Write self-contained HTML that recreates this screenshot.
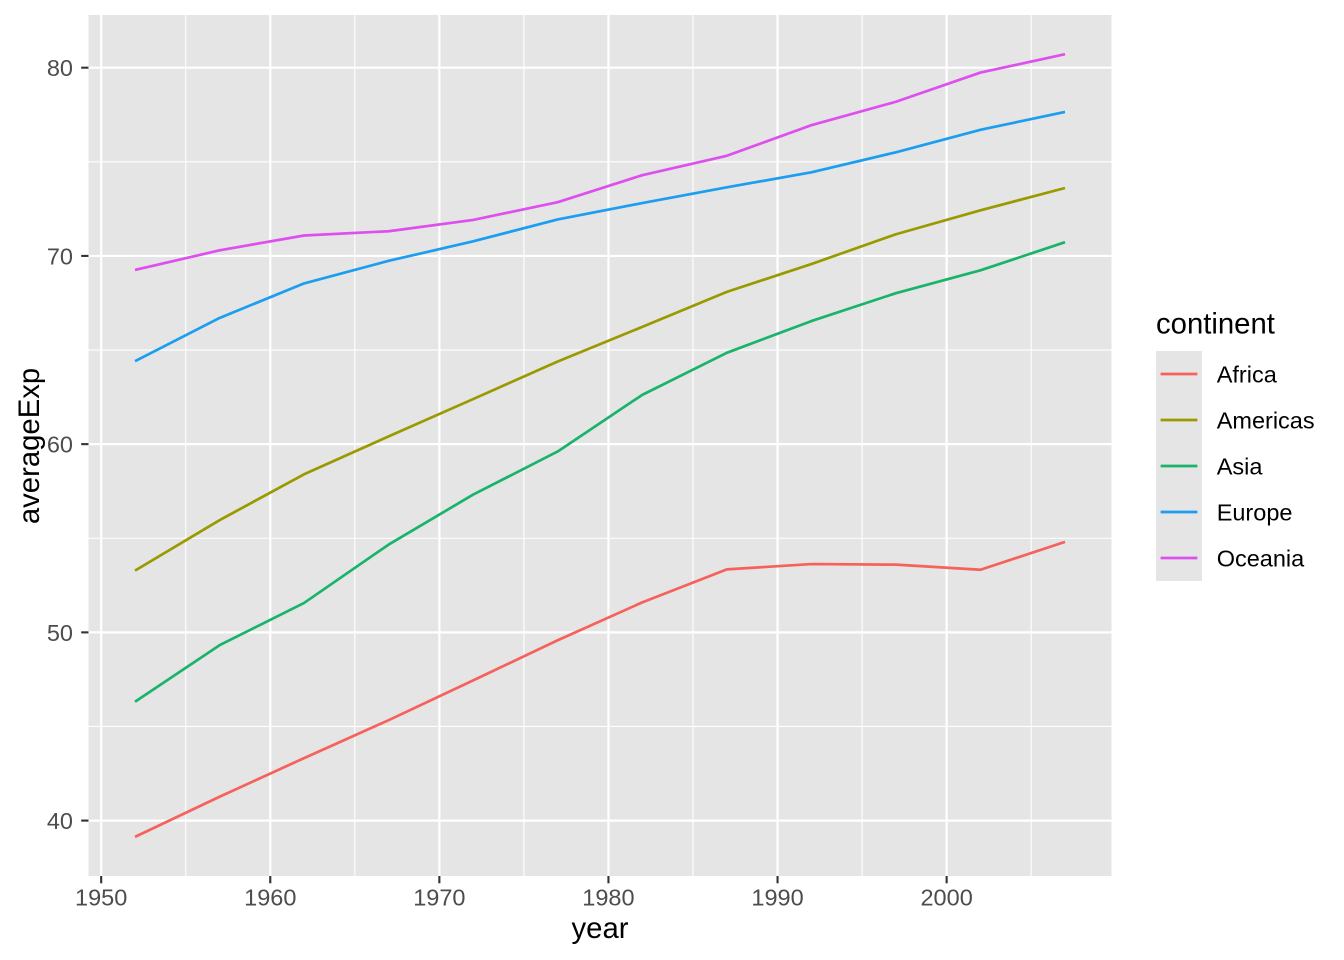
<!DOCTYPE html>
<html><head><meta charset="utf-8"><style>html,body{margin:0;padding:0;background:#fff}svg{display:block}</style></head>
<body>
<svg width="1344" height="960" viewBox="0 0 1344 960" xmlns="http://www.w3.org/2000/svg" font-family="Liberation Sans, Arial, sans-serif">
<rect x="0" y="0" width="1344" height="960" fill="#fff"/>
<rect x="88.5" y="15" width="1023" height="861" fill="#E5E5E5"/>
<g stroke="#fff" stroke-width="1.1">
<line x1="185.72" y1="15" x2="185.72" y2="876"/>
<line x1="354.81" y1="15" x2="354.81" y2="876"/>
<line x1="523.9" y1="15" x2="523.9" y2="876"/>
<line x1="693.0" y1="15" x2="693.0" y2="876"/>
<line x1="862.09" y1="15" x2="862.09" y2="876"/>
<line x1="1031.18" y1="15" x2="1031.18" y2="876"/>
<line x1="88.5" y1="726.48" x2="1111.5" y2="726.48"/>
<line x1="88.5" y1="538.26" x2="1111.5" y2="538.26"/>
<line x1="88.5" y1="350.03" x2="1111.5" y2="350.03"/>
<line x1="88.5" y1="161.81" x2="1111.5" y2="161.81"/>
</g>
<g stroke="#fff" stroke-width="2.2">
<line x1="101.18" y1="15" x2="101.18" y2="876"/>
<line x1="270.27" y1="15" x2="270.27" y2="876"/>
<line x1="439.36" y1="15" x2="439.36" y2="876"/>
<line x1="608.45" y1="15" x2="608.45" y2="876"/>
<line x1="777.54" y1="15" x2="777.54" y2="876"/>
<line x1="946.63" y1="15" x2="946.63" y2="876"/>
<line x1="88.5" y1="820.59" x2="1111.5" y2="820.59"/>
<line x1="88.5" y1="632.37" x2="1111.5" y2="632.37"/>
<line x1="88.5" y1="444.14" x2="1111.5" y2="444.14"/>
<line x1="88.5" y1="255.92" x2="1111.5" y2="255.92"/>
<line x1="88.5" y1="67.69" x2="1111.5" y2="67.69"/>
</g>
<g transform="translate(88.5,15) scale(16.909,-18.8228) translate(-1949.25,-82.7987)" fill="none" stroke-width="2.7" stroke-linejoin="round">
<polyline vector-effect="non-scaling-stroke" stroke="#F6615C" points="1952,39.1355 1957,41.2663 1962,43.3194 1967,45.3345 1972,47.4509 1977,49.5804 1982,51.5929 1987,53.3448 1992,53.6296 1997,53.5983 2002,53.3252 2007,54.8060"/>
<polyline vector-effect="non-scaling-stroke" stroke="#9A9A00" points="1952,53.2798 1957,55.9603 1962,58.3988 1967,60.4109 1972,62.3949 1977,64.3916 1982,66.2288 1987,68.0907 1992,69.5684 1997,71.1505 2002,72.4220 2007,73.6081"/>
<polyline vector-effect="non-scaling-stroke" stroke="#1AB36B" points="1952,46.3144 1957,49.3185 1962,51.5632 1967,54.6636 1972,57.3193 1977,59.6106 1982,62.6179 1987,64.8512 1992,66.5372 1997,68.0205 2002,69.2339 2007,70.7285"/>
<polyline vector-effect="non-scaling-stroke" stroke="#1C9EF0" points="1952,64.4085 1957,66.7031 1962,68.5393 1967,69.7376 1972,70.7750 1977,71.9378 1982,72.8064 1987,73.6422 1992,74.4401 1997,75.5052 2002,76.7006 2007,77.6486"/>
<polyline vector-effect="non-scaling-stroke" stroke="#DD50EE" points="1952,69.255 1957,70.295 1962,71.085 1967,71.31 1972,71.91 1977,72.855 1982,74.29 1987,75.32 1992,76.945 1997,78.19 2002,79.74 2007,80.7195"/>
</g>
<g stroke="#333" stroke-width="2.1">
<line x1="101.18" y1="876" x2="101.18" y2="883.3"/>
<line x1="270.27" y1="876" x2="270.27" y2="883.3"/>
<line x1="439.36" y1="876" x2="439.36" y2="883.3"/>
<line x1="608.45" y1="876" x2="608.45" y2="883.3"/>
<line x1="777.54" y1="876" x2="777.54" y2="883.3"/>
<line x1="946.63" y1="876" x2="946.63" y2="883.3"/>
<line x1="81.2" y1="820.59" x2="88.5" y2="820.59"/>
<line x1="81.2" y1="632.37" x2="88.5" y2="632.37"/>
<line x1="81.2" y1="444.14" x2="88.5" y2="444.14"/>
<line x1="81.2" y1="255.92" x2="88.5" y2="255.92"/>
<line x1="81.2" y1="67.69" x2="88.5" y2="67.69"/>
</g>
<g fill="#4D4D4D" font-size="23.5" text-anchor="middle">
<text x="101.18" y="905.5">1950</text>
<text x="270.27" y="905.5">1960</text>
<text x="439.36" y="905.5">1970</text>
<text x="608.45" y="905.5">1980</text>
<text x="777.54" y="905.5">1990</text>
<text x="946.63" y="905.5">2000</text>
</g>
<g fill="#4D4D4D" font-size="23.5" text-anchor="end">
<text x="73" y="829">40</text>
<text x="73" y="640.8">50</text>
<text x="73" y="452.6">60</text>
<text x="73" y="264.3">70</text>
<text x="73" y="76.1">80</text>
</g>
<text x="600" y="938" font-size="29.3" text-anchor="middle" fill="#000">year</text>
<text transform="translate(39,446) rotate(-90)" font-size="29.3" text-anchor="middle" fill="#000">averageExp</text>
<text x="1156" y="333.5" font-size="29.3" fill="#000">continent</text>
<rect x="1156" y="351" width="46" height="230" fill="#E5E5E5"/>
<g stroke-width="2.8">
<line x1="1160.6" y1="374" x2="1197.4" y2="374" stroke="#F6615C"/>
<line x1="1160.6" y1="420" x2="1197.4" y2="420" stroke="#9A9A00"/>
<line x1="1160.6" y1="466" x2="1197.4" y2="466" stroke="#1AB36B"/>
<line x1="1160.6" y1="512" x2="1197.4" y2="512" stroke="#1C9EF0"/>
<line x1="1160.6" y1="558" x2="1197.4" y2="558" stroke="#DD50EE"/>
</g>
<g fill="#000" font-size="23.5">
<text x="1216.7" y="382.4">Africa</text>
<text x="1216.7" y="428.4">Americas</text>
<text x="1216.7" y="474.4">Asia</text>
<text x="1216.7" y="520.4">Europe</text>
<text x="1216.7" y="566.4">Oceania</text>
</g>
</svg>
</body></html>
